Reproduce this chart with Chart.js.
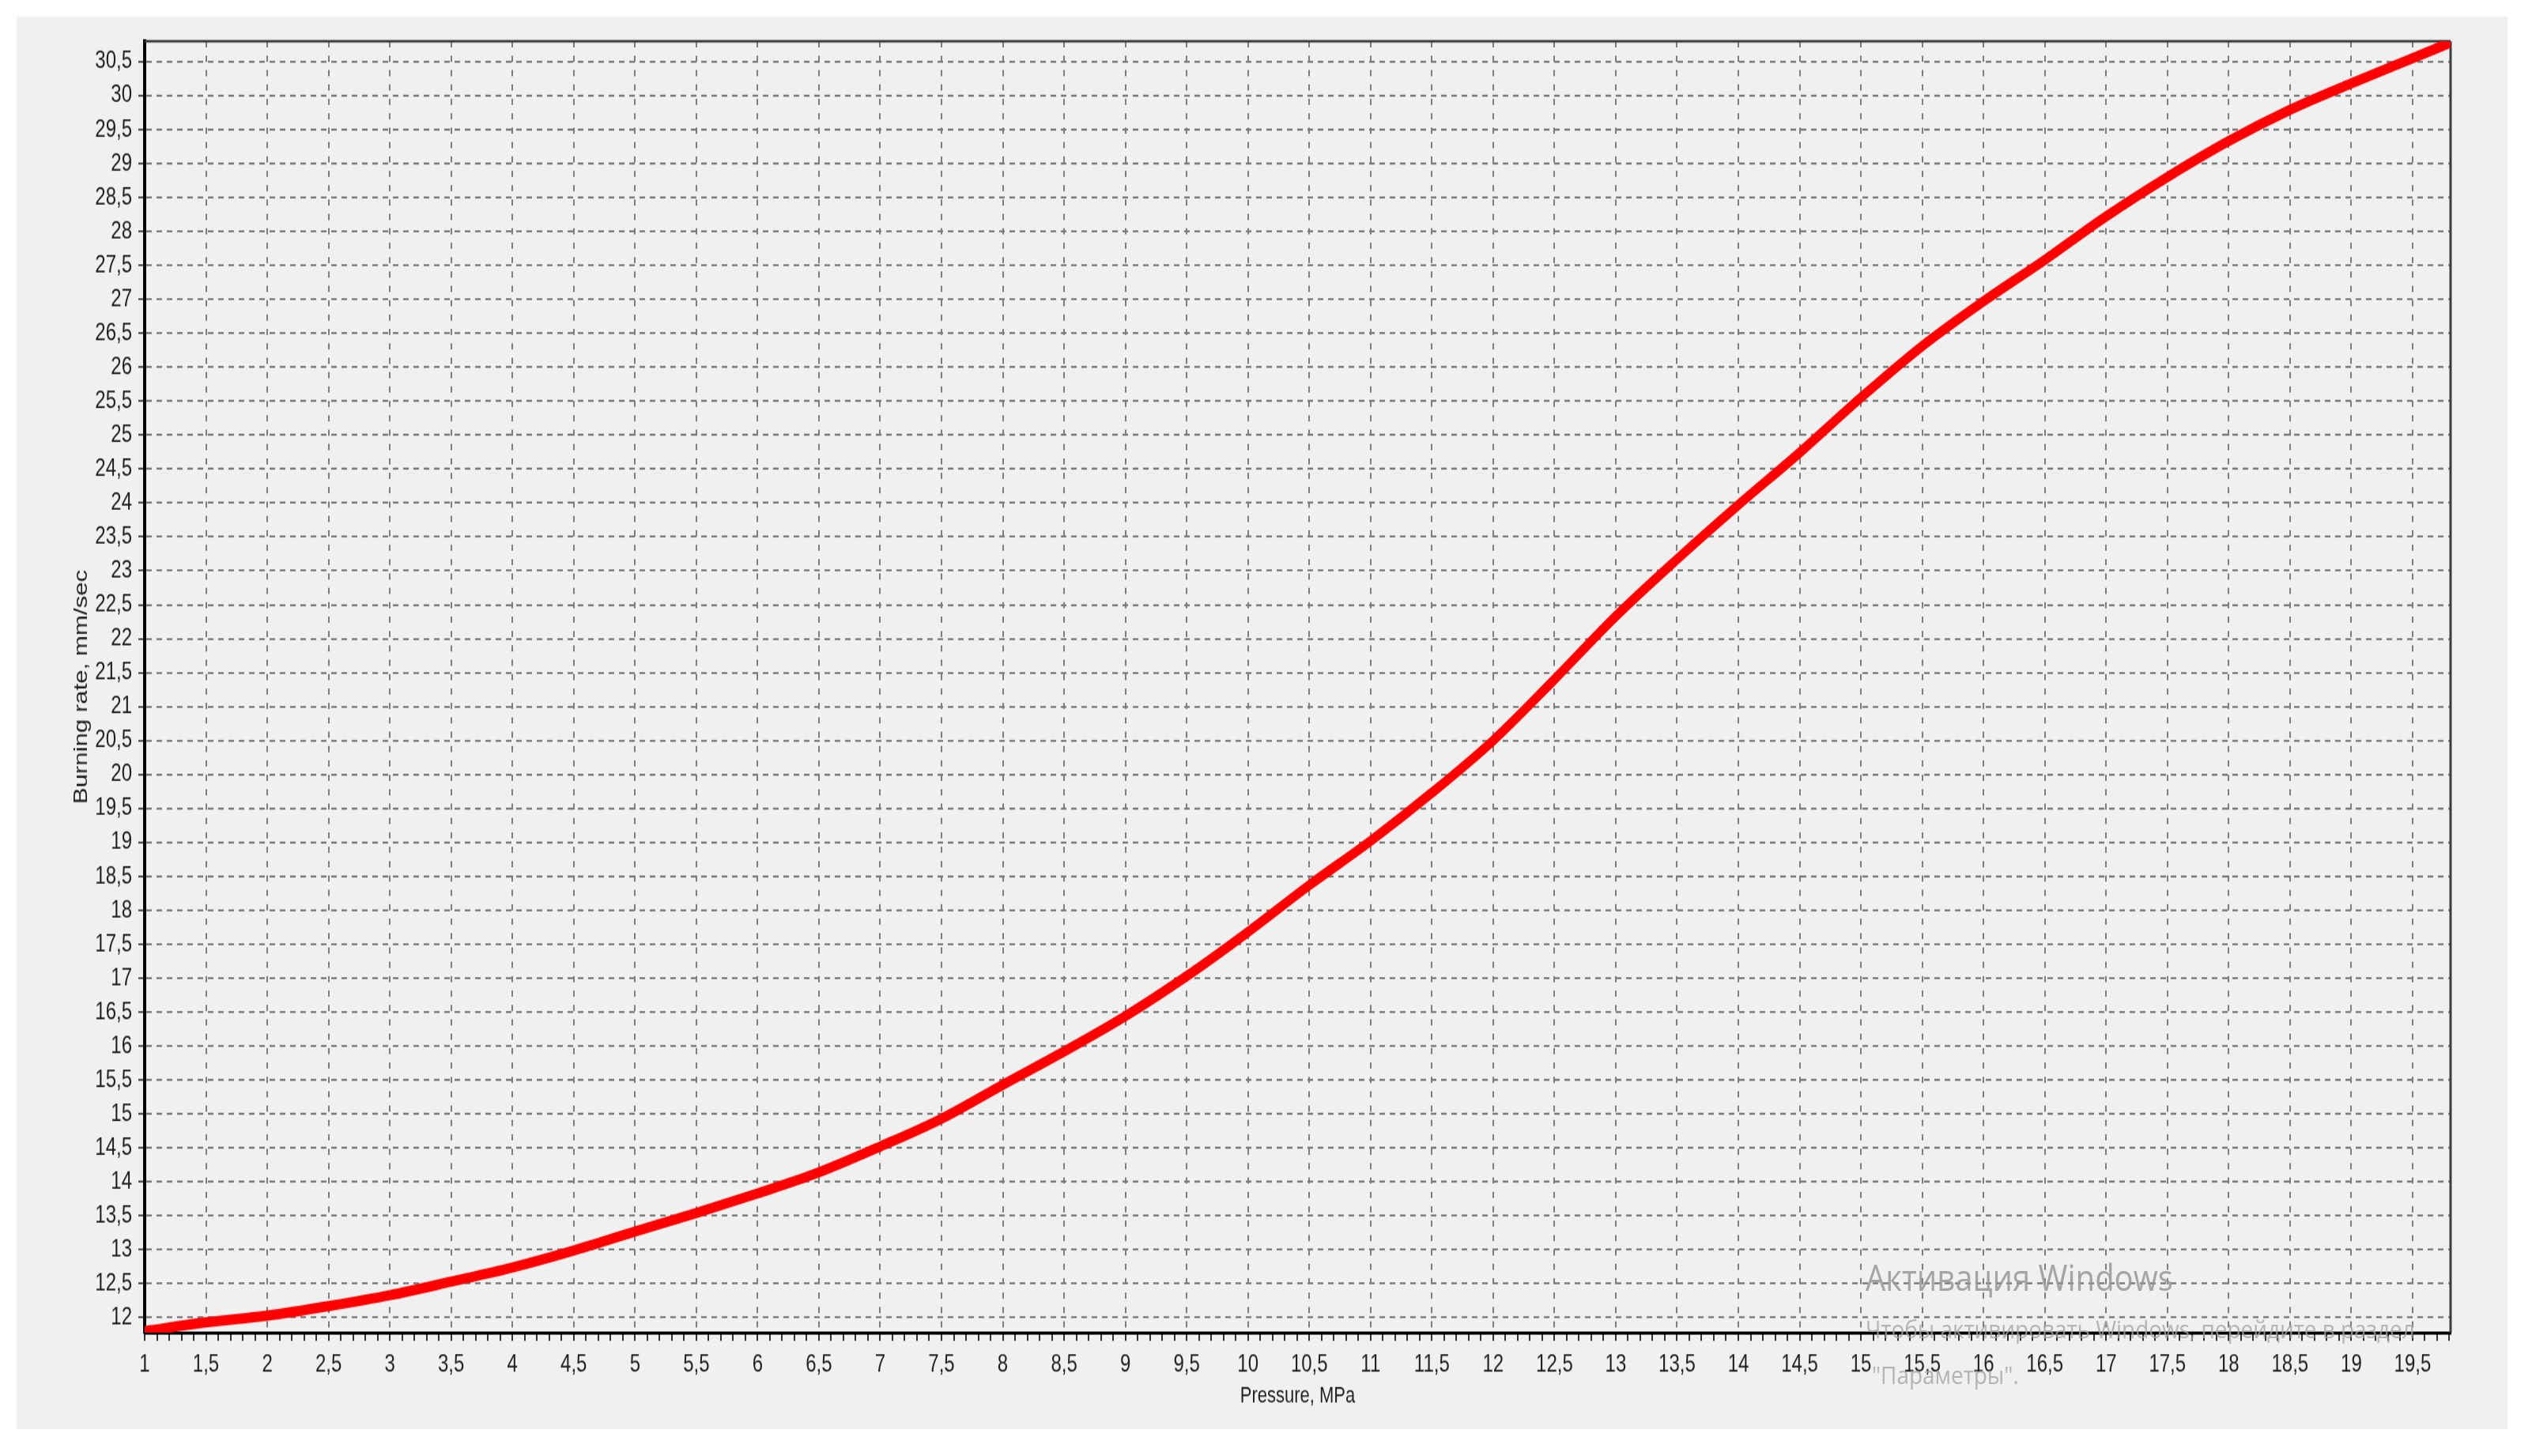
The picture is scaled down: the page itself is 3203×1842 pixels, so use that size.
<!DOCTYPE html>
<html>
<head>
<meta charset="utf-8">
<script src="https://cdn.jsdelivr.net/npm/chart.js@4.4.1/dist/chart.umd.min.js"></script>
<style>
    html, body { margin: 0; padding: 0; background: #ffffff; }
    body { width: 3203px; height: 1842px; position: relative; overflow: hidden; }
    #panel { position: absolute; left: 21px; top: 21px; width: 3151px; height: 1787px; background: #f0f0f0; }
    .wm { position: absolute; white-space: nowrap; font-family: "Open Sans", "Noto Sans", sans-serif; transform-origin: left top; }
    #wm1 { left: 2360px; top: 1584px; font-size: 46px; color: rgba(150,150,150,0.85); transform: scaleX(0.87); }
    #wm2 { left: 2360px; top: 1660px; font-size: 31px; color: rgba(165,165,165,0.8); transform: scaleX(0.9); }
    #wm3 { left: 2368px; top: 1718px; font-size: 31px; color: rgba(165,165,165,0.8); transform: scaleX(0.9); }
</style>
</head>
<body>
<!-- the source screenshot is stretched vertically (~1.3), so the canvas is drawn short and shown tall -->
<div id="panel"><canvas id="burnChart" width="3151" height="1375" style="width:3151px;height:1787px"></canvas></div>
<div class="wm" id="wm1">Активация Windows</div>
<div class="wm" id="wm2">Чтобы активировать Windows, перейдите в раздел</div>
<div class="wm" id="wm3">"Параметры".</div>
<script>
// ? pressure, MPa
var pressure = [
    1, 1.5, 2, 2.5, 3, 3.5, 4, 4.5, 5, 5.5, 6, 6.5, 7, 7.5, 8, 8.5, 9, 9.5, 10, 10.5,
    11, 11.5, 12, 12.5, 13, 13.5, 14, 14.5, 15, 15.5, 16, 16.5, 17, 17.5, 18, 18.5,
    19, 19.5, 19.81,
];

// ? burning rate, mm/sec
var burningRate = [
    11.8, 11.93, 12.03, 12.17, 12.33, 12.53, 12.74, 12.99, 13.27, 13.54, 13.83, 14.14,
    14.52, 14.93, 15.43, 15.92, 16.44, 17.03, 17.68, 18.37, 19.02, 19.73, 20.5, 21.4,
    22.33, 23.17, 23.97, 24.74, 25.55, 26.31, 26.97, 27.58, 28.22, 28.8, 29.33, 29.79,
    30.18, 30.55, 30.78,
];

var xLabels = [
    1, 1.5, 2, 2.5, 3, 3.5, 4, 4.5, 5, 5.5, 6, 6.5, 7, 7.5, 8, 8.5, 9, 9.5, 10, 10.5,
    11, 11.5, 12, 12.5, 13, 13.5, 14, 14.5, 15, 15.5, 16, 16.5, 17, 17.5, 18, 18.5,
    19, 19.5,
];

var yLabels = [
    12, 12.5, 13, 13.5, 14, 14.5, 15, 15.5, 16, 16.5, 17, 17.5, 18, 18.5, 19, 19.5,
    20, 20.5, 21, 21.5, 22, 22.5, 23, 23.5, 24, 24.5, 25, 25.5, 26, 26.5, 27, 27.5,
    28, 28.5, 29, 29.5, 30, 30.5,
];

// minor ticks every 0.1 on the pressure axis
var xMinor = [];
for (let i = 10; i <= 198; i++) xMinor.push(i / 10);

var points = pressure.map((p, i) => ({ x: p, y: burningRate[i] }));

function comma(v) {
    return String(v).replace(".", ",");
}

var sans = '"Liberation Sans", Arial, sans-serif';
var gridGray = "#7d7d7d";

// top and right edges of the plot frame
var framePlugin = {
    id: "frame",
    beforeDatasetsDraw(chart) {
        let a = chart.chartArea;
        let ctx = chart.ctx;
        ctx.save();
        ctx.strokeStyle = "#3c3c3c";
        ctx.lineWidth = 2.5;
        ctx.beginPath();
        ctx.moveTo(a.left, a.top);
        ctx.lineTo(a.right, a.top);
        ctx.stroke();
        ctx.lineWidth = 3;
        ctx.beginPath();
        ctx.moveTo(a.right, a.top);
        ctx.lineTo(a.right, a.bottom);
        ctx.stroke();
        ctx.restore();
    },
};

let burnChartElem = document.querySelector("#burnChart");
let burnChart = new Chart(burnChartElem, {
    type: "line",
    data: {
        datasets: [
            {
                label: "Burning rate",
                data: points,
                borderColor: "#ff0000",
                borderWidth: 10,
                pointRadius: 0,
                fill: false,
                cubicInterpolationMode: "monotone",
            },
        ],
    },
    plugins: [framePlugin],
    options: {
        responsive: false,
        devicePixelRatio: 1,
        animation: false,
        layout: {
            padding: { top: 24, right: 72, left: 0, bottom: 0 },
        },
        plugins: {
            legend: { display: false },
            tooltip: { enabled: false },
        },
        scales: {
            x: {
                type: "linear",
                min: 1,
                max: 19.81,
                afterBuildTicks: (scale) => {
                    scale.ticks = xMinor.map((v) => ({ value: v }));
                },
                afterFit: (scale) => {
                    scale.height = 94;
                },
                ticks: {
                    autoSkip: false,
                    maxRotation: 0,
                    padding: 9,
                    color: "#1e1e1e",
                    font: { family: sans, size: 24 },
                    callback: (v) => (xLabels.includes(v) ? comma(v) : ""),
                },
                grid: {
                    lineWidth: 2,
                    color: (ctx) => (ctx.tick && xLabels.includes(ctx.tick.value) ? gridGray : "rgba(0,0,0,0)"),
                    tickLength: 8,
                    tickColor: "#333",
                    tickWidth: 2,
                    tickBorderDash: [],
                },
                border: {
                    color: "#000",
                    width: 3,
                    dash: [6, 8],
                },
                title: {
                    display: true,
                    text: "Pressure, MPa",
                    color: "#1e1e1e",
                    font: { family: sans, size: 22 },
                    padding: { top: 0, bottom: 19 },
                },
            },
            y: {
                type: "linear",
                min: 11.78,
                max: 30.8,
                afterBuildTicks: (scale) => {
                    scale.ticks = yLabels.map((v) => ({ value: v }));
                },
                afterFit: (scale) => {
                    scale.width = 162;
                },
                ticks: {
                    autoSkip: false,
                    padding: 8,
                    color: "#1e1e1e",
                    font: { family: sans, size: 24 },
                    callback: (v) => comma(v),
                },
                grid: {
                    lineWidth: 2,
                    color: gridGray,
                    tickLength: 8,
                    tickColor: "#555",
                    tickWidth: 2,
                    tickBorderDash: [],
                },
                border: {
                    color: "#000",
                    width: 4,
                    dash: [7, 6],
                },
                title: {
                    display: true,
                    text: "Burning rate, mm/sec",
                    color: "#1e1e1e",
                    font: { family: sans, size: 24 },
                    padding: { top: 68, bottom: 0 },
                },
            },
        },
    },
});
burnChartElem.style.width = "3151px";
burnChartElem.style.height = "1787px";
</script>
</body>
</html>
